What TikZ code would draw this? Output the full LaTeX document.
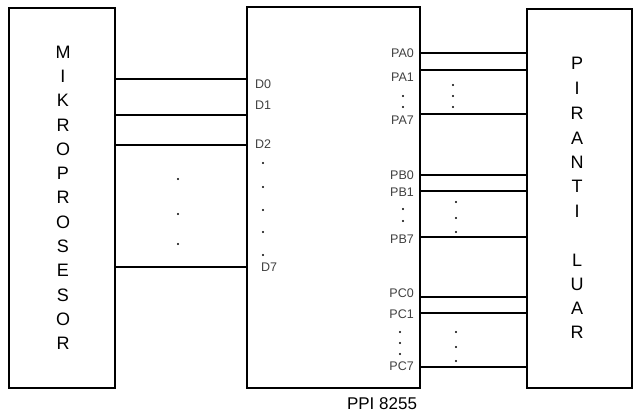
\documentclass[tikz,border=0pt]{standalone}
\usepackage{fontspec}
\setmainfont{Liberation Sans}
\begin{document}
\begin{tikzpicture}[x=1pt,y=-1pt,
  box/.style={draw,line width=1.8pt,inner sep=0pt,minimum width=0pt},
  wire/.style={line width=1.8pt},
  big/.style={font=\fontsize{18}{18}\selectfont,inner sep=0pt},
  pin/.style={font=\fontsize{12.5}{12.5}\selectfont,inner sep=0pt,text=black!75},
  dotmark/.style={circle,fill=black,inner sep=0pt,minimum size=2.4pt}]
\useasboundingbox (0,0) rectangle (640,416);
% boxes
\node[box,minimum width=106pt,minimum height=380pt] (mp) at (62,198) {};
\node[box,minimum width=173pt,minimum height=381pt] (ppi) at (333.5,197.5) {};
\node[box,minimum width=105pt,minimum height=379pt] (pl) at (579.5,198.5) {};
% left text
\foreach \c [count=\i from 0] in {M,I,K,R,O,P,R,O,S,E,S,O,R}
  \node[big] (mt\i) at (63,{52+\i*24.3}) {\c};
% right text
\foreach \c/\y [count=\i] in {P/63,I/88,R/113,A/138,N/162,T/186,I/211,L/260,U/284,A/308,R/332}
  \node[big] (pt\i) at (577,\y) {\c};
% data wires
\foreach \n/\y in {d0/79,d1/115,d2/145,d7/267}
  \draw[wire] (mp.east |- 0,\y) coordinate (\n l) -- (ppi.west |- 0,\y) coordinate (\n r);
\node[pin,anchor=west] (ld0) at (255,84) {D0};
\node[pin,anchor=west] (ld1) at (255,105) {D1};
\node[pin,anchor=west] (ld2) at (255,144) {D2};
\node[pin,anchor=west] (ld7) at (261,267) {D7};
% dots between data wires
\foreach \y [count=\i] in {179,214,244}
  \node[dotmark] (md\i) at (178,\y) {};
\foreach \y [count=\i] in {163,187,210,232,255}
  \node[dotmark] (dd\i) at (263,\y) {};
% port wires
\foreach \n/\y in {pa0/53,pa1/70,pa7/114,pb0/175,pb1/191,pb7/237,pc0/297,pc1/313,pc7/367}
  \draw[wire] (ppi.east |- 0,\y) coordinate (\n l) -- (pl.west |- 0,\y) coordinate (\n r);
\node[pin,anchor=east] (lpa0) at (414,53) {PA0};
\node[pin,anchor=east] (lpa1) at (414,77) {PA1};
\node[pin,anchor=east] (lpa7) at (414,120) {PA7};
\node[pin,anchor=east] (lpb0) at (414,175) {PB0};
\node[pin,anchor=east] (lpb1) at (414,192) {PB1};
\node[pin,anchor=east] (lpb7) at (414,239) {PB7};
\node[pin,anchor=east] (lpc0) at (414,293) {PC0};
\node[pin,anchor=east] (lpc1) at (414,314) {PC1};
\node[pin,anchor=east] (lpc7) at (414,366) {PC7};
% dots near port labels
\foreach \y [count=\i] in {96,107}
  \node[dotmark] (pad\i) at (403,\y) {};
\foreach \y [count=\i] in {209,221}
  \node[dotmark] (pbd\i) at (403,\y) {};
\foreach \y [count=\i] in {332,343,354}
  \node[dotmark] (pcd\i) at (400,\y) {};
% dots between port wires
\foreach \y [count=\i] in {85,96,107}
  \node[dotmark] (pam\i) at (453,\y) {};
\foreach \y [count=\i] in {202,218,232}
  \node[dotmark] (pbm\i) at (456,\y) {};
\foreach \y [count=\i] in {332,347,361}
  \node[dotmark] (pcm\i) at (456,\y) {};
% caption
\node[font=\fontsize{17}{17}\selectfont,inner sep=0pt] (cap) at (382,404) {PPI 8255};
\end{tikzpicture}
\end{document}
